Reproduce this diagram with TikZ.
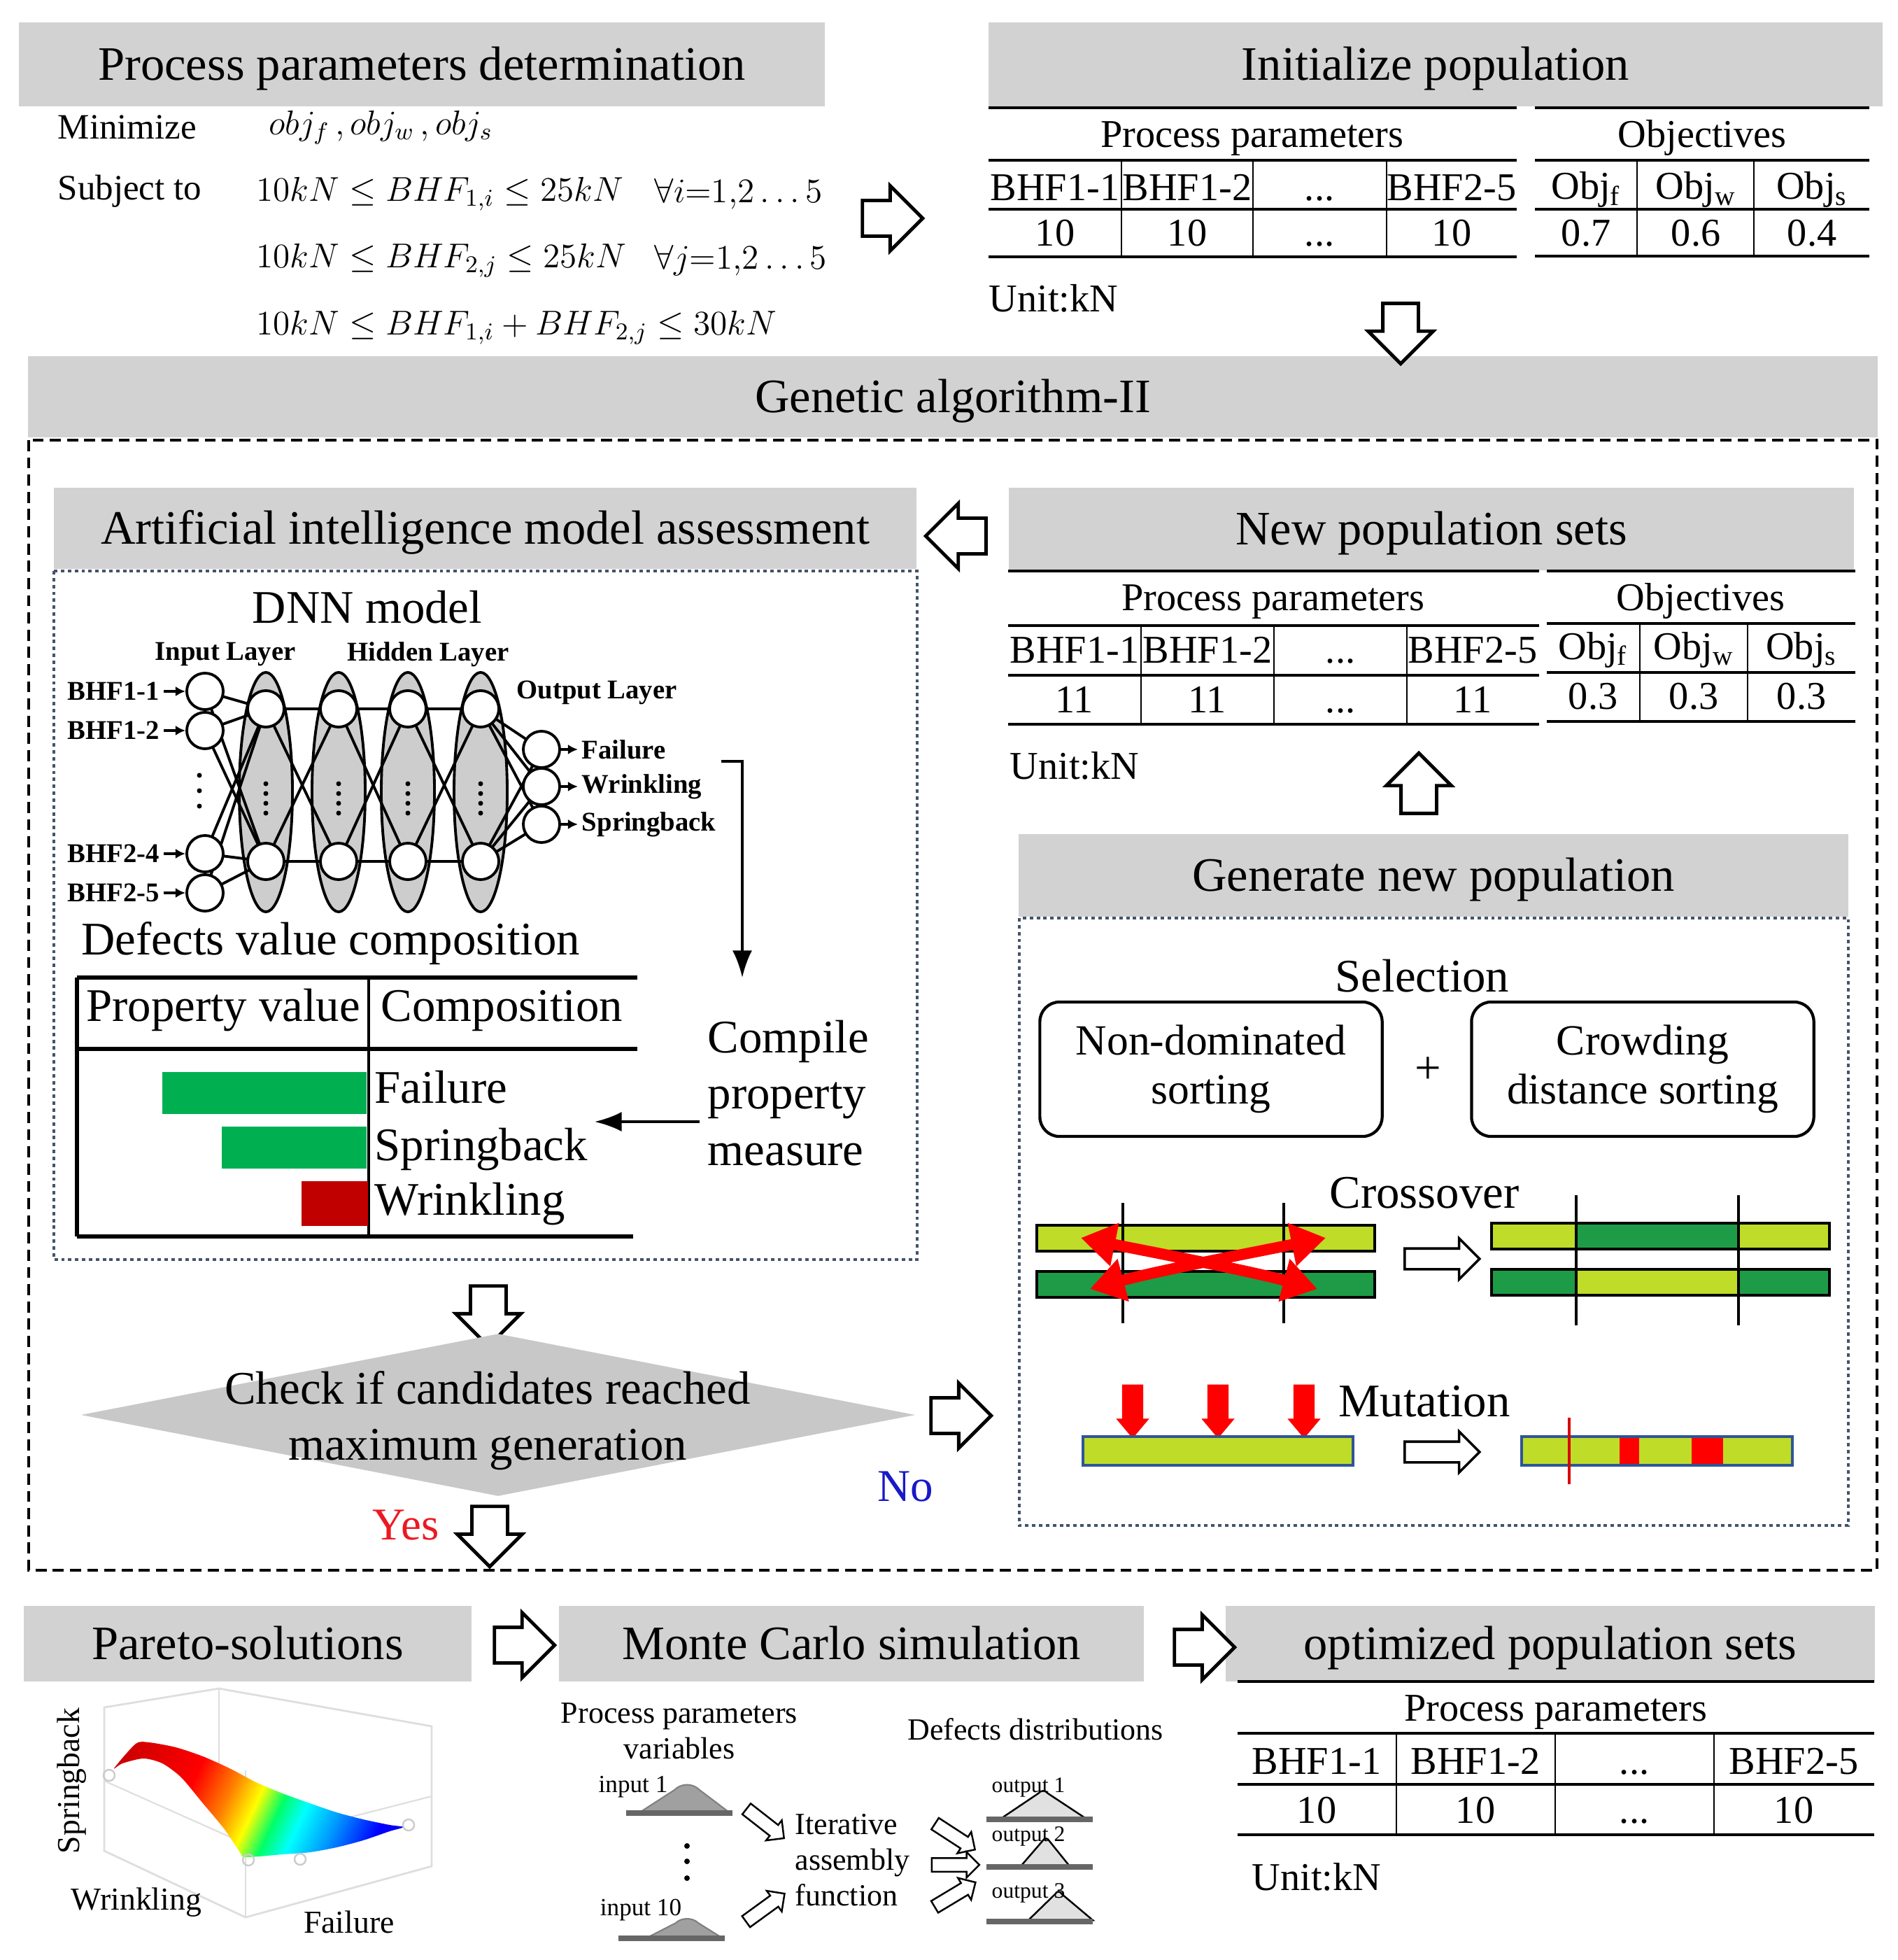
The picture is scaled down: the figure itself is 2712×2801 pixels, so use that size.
\RequirePackage{fix-cm}
\documentclass[tikz,border=0pt]{standalone}
\usepackage{fontspec}
\setmainfont{Liberation Serif}
\usetikzlibrary{shapes.arrows,shapes.geometric,arrows.meta,calc}
\definecolor{tgray}{RGB}{210,210,210}
\definecolor{dgray}{RGB}{200,200,200}
\definecolor{egray}{RGB}{205,205,205}
\definecolor{dotblue}{RGB}{68,84,106}
\definecolor{lgreen}{RGB}{190,220,40}
\definecolor{dgreen}{RGB}{30,155,70}
\definecolor{bgreen}{RGB}{0,176,80}
\definecolor{dred}{RGB}{192,0,0}
\definecolor{mblue}{RGB}{47,85,151}
\definecolor{noblue}{RGB}{25,25,200}
\definecolor{yesred}{RGB}{235,25,35}
\definecolor{jred}{RGB}{140,0,0}
\definecolor{jdblue}{RGB}{0,0,170}
\definecolor{wire}{RGB}{222,222,222}
\definecolor{bellin}{RGB}{160,160,160}
\definecolor{bellout}{RGB}{225,225,225}
\pgfdeclarelayer{ell}
\pgfdeclarelayer{lns}
\pgfsetlayers{ell,lns,main}
\pgfdeclarehorizontalshading{jetshade}{100bp}{color(0bp)=(jred); color(36bp)=(red); color(44bp)=(orange); color(50bp)=(yellow); color(55bp)=(green!60!cyan); color(60bp)=(cyan); color(67bp)=(blue!40!cyan); color(76bp)=(blue); color(100bp)=(jdblue)}
\tikzset{
  ttl/.style={fill=tgray, inner sep=0pt, text height=14.5pt, text depth=1.5pt, font=\fontsize{19.5}{23}\selectfont},
  big/.style={inner sep=0pt, font=\fontsize{19}{22.8}\selectfont},
  tb/.style={inner sep=0pt, font=\fontsize{16}{19}\selectfont},
  lbl/.style={inner sep=0pt, font=\fontsize{14.5}{17}\selectfont},
  mth/.style={inner sep=0pt, font=\fontsize{14}{17}\selectfont},
  sm/.style={inner sep=0pt, font=\fontsize{12.5}{14.5}\selectfont},
  xs/.style={inner sep=0pt, font=\fontsize{10}{12}\selectfont},
  xxs/.style={inner sep=0pt, font=\fontsize{9}{11}\selectfont},
  nn/.style={inner sep=1.5pt, font=\bfseries\fontsize{11}{13}\selectfont},
  hline/.style={line width=1.2pt},
  vline/.style={line width=0.6pt},
  barrow/.style={single arrow, draw=black, fill=white, line width=1.4pt, inner xsep=0pt, inner ysep=0.23cm,
     minimum height=0.86cm, single arrow head extend=0.21cm},
  sarrow/.style={single arrow, draw=black, fill=white, line width=1pt, inner xsep=0pt, inner ysep=0.13cm,
     minimum height=1.07cm, single arrow head extend=0.145cm},
  tarrow/.style={single arrow, draw=black, fill=white, line width=0.7pt, inner xsep=0pt, inner ysep=0.085cm,
     minimum height=0.68cm, single arrow head extend=0.085cm},
  rarrow/.style={single arrow, fill=red, draw=none, inner xsep=0pt, inner ysep=0.145cm, single arrow tip angle=80,
     minimum height=0.77cm, single arrow head extend=0.085cm},
  neuron/.style={circle, draw, fill=white, line width=1.1pt, minimum size=0.52cm, inner sep=0pt},
  nl/.style={line width=1.1pt},
  dotbox/.style={draw=dotblue, line width=1pt, dash pattern=on 1.4pt off 1.4pt},
  sortbox/.style={draw, line width=1.2pt, rounded corners=0.28cm, minimum width=4.89cm,
     minimum height=1.92cm, align=center, font=\fontsize{17.5}{20}\selectfont},
  bar/.style={draw=black, line width=0.9pt},
}
\begin{document}
\begin{tikzpicture}[x=0.01cm,y=-0.01cm]
\useasboundingbox (0,0) rectangle (2712,2801);

% ---------- title bars ----------
\node[ttl, minimum width=11.52cm, minimum height=1.20cm] (tProc) at (603,92) {Process parameters determination};
\node[ttl, minimum width=12.78cm, minimum height=1.20cm] (tInit) at (2052,92) {Initialize population};
\node[ttl, minimum width=26.42cm, minimum height=1.16cm] (tGA) at (1362,567) {Genetic algorithm-II};
\node[ttl, minimum width=12.33cm, minimum height=1.16cm] (tAI) at (693.5,755) {Artificial intelligence model assessment};
\node[ttl, minimum width=12.08cm, minimum height=1.18cm] (tNew) at (2046,756) {New population sets};
\node[ttl, minimum width=11.85cm, minimum height=1.17cm] (tGen) at (2049,1251) {Generate new population};
\node[ttl, minimum width=6.40cm, minimum height=1.08cm] (tPar) at (354,2349) {Pareto-solutions};
\node[ttl, minimum width=8.35cm, minimum height=1.08cm] (tMC) at (1217,2349) {Monte Carlo simulation};
\node[ttl, minimum width=9.27cm, minimum height=1.08cm] (tOpt) at (2216,2349) {optimized population sets};

% ---------- frames ----------
\draw[line width=1.3pt, dash pattern=on 4.5pt off 2.5pt] (41,629) rectangle (2683,2244);
\draw[dotbox] (77,816) rectangle (1311,1800);
\draw[dotbox] (1457,1312) rectangle (2642,2180);

% ---------- problem definition ----------
\node[lbl, anchor=west] (minl) at (82,182) {Minimize};
\node[mth, anchor=west] (minobj) at (384,182) {$obj_f\,,obj_w\,,obj_s$};
\node[lbl, anchor=west] (subj) at (82,273) {Subject to};
\node[mth, anchor=west] (c1) at (366,277) {$10kN \le BHF_{1,i} \le 25kN$};
\node[mth, anchor=west] (c1q) at (935,277) {$\forall i{=}1{,}2\ldots5$};
\node[mth, anchor=west] (c2) at (366,372) {$10kN \le BHF_{2,j} \le 25kN$};
\node[mth, anchor=west] (c2q) at (935,372) {$\forall j{=}1{,}2\ldots5$};
\node[mth, anchor=west] (c3) at (366,468) {$10kN \le BHF_{1,i} + BHF_{2,j} \le 30kN$};

% ---------- initialize population table ----------
\draw[hline] (1413,154) -- (2168,154) (1413,229) -- (2168,229) (1413,299) -- (2168,299) (1413,367) -- (2168,367);
\draw[hline] (2194,154) -- (2672,154) (2194,229) -- (2672,229) (2194,299) -- (2672,299) (2194,366) -- (2672,366);
\draw[vline] (1603,229) -- (1603,367) (1791,229) -- (1791,367) (1982,229) -- (1982,367)
             (2340,229) -- (2340,366) (2507,229) -- (2507,366);
\node[tb, anchor=base] (ipp) at (1790,211) {Process parameters};
\node[tb, anchor=base] (iob) at (2433,211) {Objectives};
\node[tb, anchor=base] (ih1) at (1508,287) {BHF1-1};
\node[tb, anchor=base] (ih2) at (1697,287) {BHF1-2};
\node[tb, anchor=base] (ih3) at (1886,287) {...};
\node[tb, anchor=base] (ih4) at (2075,287) {BHF2-5};
\node[tb, anchor=base] (io1) at (2267,285) {Obj\textsubscript{f}};
\node[tb, anchor=base] (io2) at (2424,285) {Obj\textsubscript{w}};
\node[tb, anchor=base] (io3) at (2590,285) {Obj\textsubscript{s}};
\node[tb, anchor=base] (iv1) at (1508,352) {10};
\node[tb, anchor=base] (iv2) at (1697,352) {10};
\node[tb, anchor=base] (iv3) at (1886,352) {...};
\node[tb, anchor=base] (iv4) at (2075,352) {10};
\node[tb, anchor=base] (iw1) at (2267,352) {0.7};
\node[tb, anchor=base] (iw2) at (2424,352) {0.6};
\node[tb, anchor=base] (iw3) at (2590,352) {0.4};
\node[tb, anchor=base west] (iunit) at (1413,446) {Unit:kN};

% ---------- new population table ----------
\draw[hline] (1441,816) -- (2200,816) (1441,894) -- (2200,894) (1441,965) -- (2200,965) (1441,1035) -- (2200,1035);
\draw[hline] (2211,816) -- (2652,816) (2211,891) -- (2652,891) (2211,961) -- (2652,961) (2211,1031) -- (2652,1031);
\draw[vline] (1631,894) -- (1631,1035) (1821,894) -- (1821,1035) (2011,894) -- (2011,1035)
             (2344,891) -- (2344,1031) (2498,891) -- (2498,1031);
\node[tb, anchor=base] (npp) at (1820,872) {Process parameters};
\node[tb, anchor=base] (nob) at (2431,872) {Objectives};
\node[tb, anchor=base] (nh1) at (1536,947) {BHF1-1};
\node[tb, anchor=base] (nh2) at (1726,947) {BHF1-2};
\node[tb, anchor=base] (nh3) at (1916,947) {...};
\node[tb, anchor=base] (nh4) at (2105,947) {BHF2-5};
\node[tb, anchor=base] (no1) at (2277,942) {Obj\textsubscript{f}};
\node[tb, anchor=base] (no2) at (2421,942) {Obj\textsubscript{w}};
\node[tb, anchor=base] (no3) at (2575,942) {Obj\textsubscript{s}};
\node[tb, anchor=base] (nv1) at (1536,1018) {11};
\node[tb, anchor=base] (nv2) at (1726,1018) {11};
\node[tb, anchor=base] (nv3) at (1916,1018) {...};
\node[tb, anchor=base] (nv4) at (2105,1018) {11};
\node[tb, anchor=base] (nw1) at (2277,1013) {0.3};
\node[tb, anchor=base] (nw2) at (2421,1013) {0.3};
\node[tb, anchor=base] (nw3) at (2575,1013) {0.3};
\node[tb, anchor=base west] (nunit) at (1443,1113) {Unit:kN};

% ---------- optimized table ----------
\draw[hline] (1769,2403) -- (2679,2403) (1769,2477) -- (2679,2477) (1769,2550) -- (2679,2550) (1769,2622) -- (2679,2622);
\draw[vline] (1996,2477) -- (1996,2622) (2223,2477) -- (2223,2622) (2450,2477) -- (2450,2622);
\node[tb, anchor=base] (opp) at (2224,2459) {Process parameters};
\node[tb, anchor=base] (oh1) at (1882,2535) {BHF1-1};
\node[tb, anchor=base] (oh2) at (2109,2535) {BHF1-2};
\node[tb, anchor=base] (oh3) at (2336,2535) {...};
\node[tb, anchor=base] (oh4) at (2564,2535) {BHF2-5};
\node[tb, anchor=base] (ov1) at (1882,2605) {10};
\node[tb, anchor=base] (ov2) at (2109,2605) {10};
\node[tb, anchor=base] (ov3) at (2336,2605) {...};
\node[tb, anchor=base] (ov4) at (2564,2605) {10};
\node[tb, anchor=base west] (ounit) at (1789,2701) {Unit:kN};

% ---------- block arrows ----------
\node[barrow] (a1) at (1263,312) {};
\node[barrow, rotate=-90] (a2) at (2002,464) {};
\node[barrow, rotate=180] (a3) at (1379,766) {};
\node[barrow, rotate=90] (a4) at (2028,1132) {};
\node[barrow, rotate=-90] (a5) at (698,1868) {};
\node[barrow] (a6) at (1361,2023) {};
\node[barrow, rotate=-90] (a7) at (700,2183) {};
\node[barrow] (a8) at (737,2351) {};
\node[barrow] (a9) at (1709,2354) {};

% ---------- DNN model ----------
\node[big] (dnn) at (525,868) {DNN model};
\node[nn] (inl) at (322,935) {Input Layer};
\node[nn] (hdl) at (612,935) {Hidden Layer};
\node[nn] (oul) at (853,990) {Output Layer};

\foreach \x [count=\k] in {380,484,583,687} {
  \begin{pgfonlayer}{ell}
    \node[ellipse, draw, fill=egray, line width=1.1pt, minimum width=0.76cm, minimum height=3.42cm, inner sep=0pt] (e\k) at (\x,1132) {};
  \end{pgfonlayer}
  \node[neuron] (ht\k) at (\x,1013) {};
  \node[neuron] (hb\k) at (\x,1231) {};
  \foreach \yy in {1120,1134,1148,1162} \fill (\x,\yy) circle[radius=3.5];
}
\node[neuron] (i1) at (293,988) {};
\node[neuron] (i2) at (293,1044) {};
\node[neuron] (i4) at (293,1220) {};
\node[neuron] (i5) at (293,1276) {};
\foreach \yy in {1108,1130,1152} \fill (285,\yy) circle[radius=3.5];
\node[neuron] (o1) at (774,1071) {};
\node[neuron] (o2) at (774,1124) {};
\node[neuron] (o3) at (774,1178) {};

\begin{pgfonlayer}{lns}
  \foreach \i in {i1,i2,i4,i5} { \draw[nl] (\i.center) -- (ht1.center); \draw[nl] (\i.center) -- (hb1.center); }
  \foreach \a/\b in {1/2,2/3,3/4} {
    \draw[nl] (ht\a.center) -- (ht\b.center);
    \draw[nl] (hb\a.center) -- (hb\b.center);
    \draw[nl] (ht\a.center) -- (hb\b.center);
    \draw[nl] (hb\a.center) -- (ht\b.center);
  }
  \foreach \o in {o1,o2,o3} { \draw[nl] (ht4.center) -- (\o.center); \draw[nl] (hb4.center) -- (\o.center); }
\end{pgfonlayer}

\node[nn, anchor=east] (l1) at (234,988) {BHF1-1};
\node[nn, anchor=east] (l2) at (234,1044) {BHF1-2};
\node[nn, anchor=east] (l4) at (234,1220) {BHF2-4};
\node[nn, anchor=east] (l5) at (234,1276) {BHF2-5};
\foreach \n in {1,2,4,5} \draw[line width=0.9pt, -{Latex[length=4pt,width=4pt]}] (l\n.east) -- (i\n.west);
\node[nn, anchor=west] (r1) at (826,1071) {Failure};
\node[nn, anchor=west] (r2) at (826,1124) {Wrinkling};
\node[nn, anchor=west] (r3) at (826,1178) {Springback};
\foreach \n in {1,2,3} \draw[line width=0.9pt, -{Latex[length=4pt,width=4pt]}] (o\n.east) -- (r\n.west);

\coordinate (brs) at (1031,1088);
\coordinate (bre) at (1061,1397);
\draw[line width=1.1pt, -{Latex[length=11pt,width=8pt]}] (brs) -| (bre);

% ---------- defects table ----------
\node[big, anchor=base west] (dvc) at (116,1364) {Defects value composition};
\draw[line width=1.5pt] (110,1397) -- (911,1397) (110,1499) -- (911,1499) (110,1767) -- (905,1767);
\draw[line width=1.5pt] (110,1397) -- (110,1767);
\draw[line width=1pt] (527,1397) -- (527,1767);
\node[big, anchor=base] (pvh) at (319,1459) {Property value};
\node[big, anchor=base west] (cph) at (544,1459) {Composition};
\fill[bgreen] (232,1532) rectangle (524,1592);
\fill[bgreen] (317,1610) rectangle (524,1670);
\fill[dred] (431,1688) rectangle (526,1752);
\node[big, anchor=base west] (df1) at (535,1576) {Failure};
\node[big, anchor=base west] (df2) at (535,1658) {Springback};
\node[big, anchor=base west] (df3) at (535,1736) {Wrinkling};
\node[big, anchor=west, align=left] (cmp) at (1011,1562) {Compile\\property\\measure};
\coordinate (cpa) at (1000,1603);
\coordinate (cpb) at (850,1603);
\draw[line width=1.1pt, -{Latex[length=11pt,width=8pt]}] (cpa) -- (cpb);

% ---------- decision diamond ----------
\node[diamond, fill=dgray, inner sep=0pt, minimum width=11.92cm, minimum height=2.32cm] (chk) at (712,2022) {};
\node[big, align=center] (chkt) at (697,2030) {Check if candidates reached\\maximum generation};
\node[font=\fontsize{18.5}{21}\selectfont, text=noblue, anchor=base] (no) at (1294,2145) {No};
\node[font=\fontsize{18.5}{21}\selectfont, text=yesred, anchor=base] (yes) at (580,2200) {Yes};

% ---------- selection ----------
\node[big] (sel) at (2033,1395) {Selection};
\node[sortbox] (nds) at (1731,1528) {Non-dominated\\sorting};
\node[big] (plus) at (2041,1530) {+};
\node[sortbox] (cds) at (2348,1528) {Crowding\\distance sorting};

% ---------- crossover ----------
\node[big] (cro) at (2036,1705) {Crossover};
\fill[lgreen] (1482,1751) rectangle (1965,1788);
\draw[bar] (1482,1751) rectangle (1965,1788);
\fill[dgreen] (1482,1817) rectangle (1965,1854);
\draw[bar] (1482,1817) rectangle (1965,1854);
\draw[line width=1.1pt] (1605,1719) -- (1605,1891) (1835,1719) -- (1835,1891);
\draw[red, line width=4.5pt, {Triangle[length=14pt,width=17pt]}-{Triangle[length=14pt,width=17pt]}]
  (1545,1769) .. controls (1650,1790) and (1780,1815) .. (1883,1842);
\draw[red, line width=4.5pt, {Triangle[length=14pt,width=17pt]}-{Triangle[length=14pt,width=17pt]}]
  (1558,1842) .. controls (1660,1815) and (1790,1790) .. (1895,1769);
\node[sarrow] (xa) at (2054,1799) {};
\fill[lgreen] (2132,1748) rectangle (2253,1785);
\fill[dgreen] (2253,1748) rectangle (2485,1785);
\fill[lgreen] (2485,1748) rectangle (2615,1785);
\draw[bar] (2132,1748) rectangle (2615,1785);
\fill[dgreen] (2132,1814) rectangle (2253,1851);
\fill[lgreen] (2253,1814) rectangle (2485,1851);
\fill[dgreen] (2485,1814) rectangle (2615,1851);
\draw[bar] (2132,1814) rectangle (2615,1851);
\draw[line width=1.1pt] (2253,1708) -- (2253,1894) (2485,1708) -- (2485,1894);

% ---------- mutation ----------
\node[big] (mut) at (2036,2003) {Mutation};
\node[rarrow, rotate=-90] (m1) at (1619,2008) {};
\node[rarrow, rotate=-90] (m2) at (1741,2008) {};
\node[rarrow, rotate=-90] (m3) at (1864,2008) {};
\fill[lgreen] (1548,2053) rectangle (1934,2094);
\draw[mblue, line width=1pt] (1548,2053) rectangle (1934,2094);
\node[sarrow] (ma) at (2054,2075) {};
\fill[lgreen] (2175,2053) rectangle (2562,2094);
\fill[red] (2315,2053) rectangle (2343,2094);
\fill[red] (2418,2053) rectangle (2463,2094);
\draw[mblue, line width=1pt] (2175,2053) rectangle (2562,2094);
\draw[red!85!black, line width=1pt] (2243,2026) -- (2243,2121);

% ---------- Pareto plot ----------
\draw[wire, line width=0.8pt] (149,2440) -- (149,2645) -- (351,2740) -- (617,2667) -- (617,2467) -- (313,2413) -- cycle;
\draw[wire, line width=0.6pt] (149,2545) -- (351,2635) -- (617,2567);
\draw[wire, line width=0.6pt] (351,2740) -- (351,2530);
\draw[wire, line width=0.6pt] (313,2413) -- (313,2600);
\shade[shading=jetshade, shading angle=-25] plot[smooth cycle, tension=0.45] coordinates {
  (163,2527) (194,2492) (213,2490) (251,2497) (290,2510) (328,2527) (366,2547) (404,2563)
  (443,2577) (481,2590) (519,2600) (557,2608) (577,2611) (557,2617) (519,2630) (481,2640)
  (443,2647) (404,2650) (351,2654) (343,2647) (320,2613) (290,2577) (259,2540) (232,2520)
  (205,2513) (175,2520)};
\foreach \p in {(156,2537),(355,2658),(429,2657),(584,2608)} \draw[gray!40, line width=0.7pt] \p circle[radius=8];
\node[font=\fontsize{13}{15}\selectfont, rotate=90] (psb) at (103,2545) {Springback};
\node[font=\fontsize{13}{15}\selectfont] (pwr) at (195,2719) {Wrinkling};
\node[font=\fontsize{13}{15}\selectfont] (pfa) at (499,2747) {Failure};

% ---------- Monte Carlo ----------
\node[sm, align=center] (mpp) at (971,2474) {Process parameters\\variables};
\node[sm] (mdd) at (1480,2471) {Defects distributions};
\draw[bellin!80!black, fill=bellin, line width=0.6pt] (916,2589) -- (964,2558) .. controls (974,2548) and (990,2548) .. (1000,2558) -- (1041,2589) -- cycle;
\draw[gray!80!black, line width=2.2pt] (895,2591) -- (1047,2591);
\node[xs] (in1) at (905,2554) {input 1};
\draw[bellin!80!black, fill=bellin, line width=0.6pt] (927,2768) -- (966,2748) .. controls (974,2740) and (990,2740) .. (998,2748) -- (1030,2768) -- cycle;
\draw[gray!80!black, line width=2.2pt] (884,2770) -- (1036,2770);
\node[xs] (in10) at (916,2730) {input 10};
\foreach \yy in {2638,2660,2684} \fill (982,\yy) circle[radius=4];
\node[tarrow, rotate=-38] (ta1) at (1090,2603) {};
\node[tarrow, rotate=36] (ta2) at (1090,2729) {};
\node[sm, align=left, anchor=west] (iaf) at (1136,2658) {Iterative\\assembly\\function};
\node[tarrow, rotate=-33] (tb1) at (1361,2622) {};
\node[tarrow] (tb2) at (1361,2665) {};
\node[tarrow, rotate=31] (tb3) at (1361,2710) {};
\draw[black, fill=bellout, line width=0.7pt] (1432,2598) -- (1484,2563) .. controls (1488,2558) and (1494,2558) .. (1498,2563) -- (1551,2598) -- cycle;
\draw[gray!80!black, line width=2.2pt] (1410,2600) -- (1562,2600);
\draw[black, fill=bellout, line width=0.7pt] (1459,2667) -- (1490,2631) .. controls (1493,2626) and (1497,2626) .. (1500,2631) -- (1529,2667) -- cycle;
\draw[gray!80!black, line width=2.2pt] (1410,2668) -- (1562,2668);
\draw[black, fill=bellout, line width=0.7pt] (1470,2744) -- (1508,2707) .. controls (1511,2702) and (1515,2702) .. (1518,2707) -- (1562,2744) -- cycle;
\draw[gray!80!black, line width=2.2pt] (1410,2746) -- (1562,2746);
\node[xxs] (ou1) at (1470,2554) {output 1};
\node[xxs] (ou2) at (1470,2624) {output 2};
\node[xxs] (ou3) at (1470,2705) {output 3};
\end{tikzpicture}
\end{document}
